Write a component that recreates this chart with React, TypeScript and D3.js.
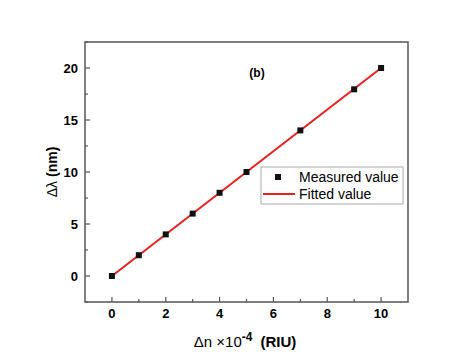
import React from 'react';
import * as d3 from 'd3';

// measured points
const dn = [0, 1, 2, 3, 4, 5, 7, 9, 10];
const dl = [0, 2, 4, 6, 8, 10, 14, 17.95, 20];
// fit line endpoints
const fitX = [0, 10];
const fitY = [0, 20];
const xTicks = [0, 2, 4, 6, 8, 10];
const xMinor = [1, 3, 5, 7, 9];
const yTicks = [0, 5, 10, 15, 20];
const yMinor = [-2.5, 2.5, 7.5, 12.5, 17.5, 22.5];

const W = 474;
const H = 362;
const m = { left: 85, top: 42, right: 408, bottom: 302 };
const font = 'Arial, "Liberation Sans", sans-serif';

export default function App() {
  const x = d3.scaleLinear().domain([-1, 11]).range([m.left, m.right]);
  const y = d3.scaleLinear().domain([-2.5, 22.5]).range([m.bottom, m.top]);
  const line = d3.line<number>().x(i => x(fitX[i])).y(i => y(fitY[i]));

  return (
    <svg width={W} height={H} style={{ position: 'absolute', left: 0, top: 0, background: '#fff' }}>
      {/* fit */}
      <path d={line([0, 1]) || ''} stroke="#e8201e" strokeWidth={2} fill="none" />
      {dn.map((v, i) => (
        <rect key={i} x={x(v) - 3} y={y(dl[i]) - 3} width={6} height={6} fill="#111" />
      ))}

      {/* frame */}
      <rect x={m.left} y={m.top} width={m.right - m.left} height={m.bottom - m.top}
        fill="none" stroke="#555" strokeWidth={1.5} />

      {xTicks.map(t => (
        <g key={'x' + t}>
          <line x1={x(t)} x2={x(t)} y1={m.bottom} y2={m.bottom - 5} stroke="#555" strokeWidth={1.2} />
          <text x={x(t)} y={318} textAnchor="middle" fontFamily={font} fontWeight="bold" fontSize={13}>{t}</text>
        </g>
      ))}
      {xMinor.map(t => (
        <line key={'xm' + t} x1={x(t)} x2={x(t)} y1={m.bottom} y2={m.bottom - 3} stroke="#555" strokeWidth={1.2} />
      ))}
      {yTicks.map(t => (
        <g key={'y' + t}>
          <line x1={m.left} x2={m.left + 5} y1={y(t)} y2={y(t)} stroke="#555" strokeWidth={1.2} />
          <text x={78} y={y(t) + 4.5} textAnchor="end" fontFamily={font} fontWeight="bold" fontSize={13}>{t}</text>
        </g>
      ))}
      {yMinor.map(t => (
        <line key={'ym' + t} x1={m.left} x2={m.left + 3} y1={y(t)} y2={y(t)} stroke="#555" strokeWidth={1.2} />
      ))}

      {/* axis titles */}
      <text x={245} y={347} textAnchor="middle" fontFamily={font} fontSize={15}>
        <tspan>Δn ×10</tspan>
        <tspan dy={-6} fontSize={12} fontWeight="bold">-4</tspan>
        <tspan dy={6} fontWeight="bold" dx={8}>(RIU)</tspan>
      </text>
      <text transform={`translate(57,${y(10)}) rotate(-90)`} textAnchor="middle" fontFamily={font} fontSize={14}>
        <tspan>Δλ </tspan><tspan fontWeight="bold">(nm)</tspan>
      </text>

      <text x={257} y={77} textAnchor="middle" fontFamily={font} fontWeight="bold" fontSize={12}>(b)</text>

      {/* legend */}
      <rect x={261} y={167} width={142} height={37} fill="#fff" stroke="#aaa" strokeWidth={1} />
      <rect x={275} y={174} width={6} height={6} fill="#111" />
      <text x={299} y={182} fontFamily={font} fontSize={14}>Measured value</text>
      <line x1={263} x2={295} y1={194} y2={194} stroke="#e8201e" strokeWidth={2} />
      <text x={299} y={199} fontFamily={font} fontSize={14}>Fitted value</text>
    </svg>
  );
}
